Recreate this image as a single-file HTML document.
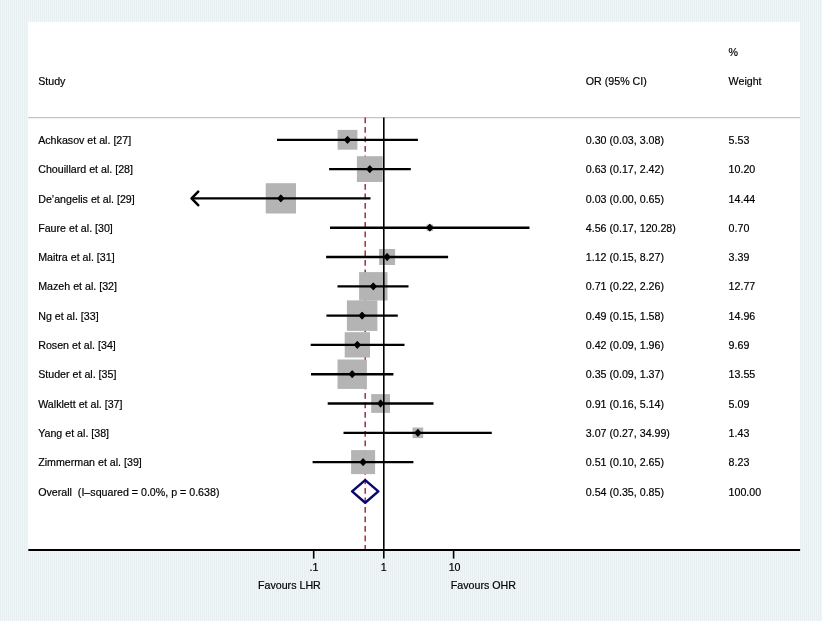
<!DOCTYPE html>
<html><head><meta charset="utf-8"><title>Forest plot</title>
<style>
html,body{margin:0;padding:0;}
body{width:822px;height:621px;overflow:hidden;background:#eaf2f3;}
svg{display:block;}
text{font-family:"Liberation Sans",Arial,Helvetica,sans-serif;font-size:10.66px;fill:#000;stroke:#000;stroke-width:0.18px;}
</style></head><body>
<svg width="822" height="621" viewBox="0 0 822 621">
<defs><pattern id="st" width="2" height="2" patternUnits="userSpaceOnUse"><rect width="2" height="2" fill="#eef6f6"/><rect width="1" height="2" fill="#e7eff1"/></pattern></defs>
<rect x="0" y="0" width="822" height="621" fill="url(#st)"/>
<rect x="28.3" y="21.8" width="771.8" height="528.2" fill="#fff"/>
<line x1="28.3" y1="117.7" x2="800.1" y2="117.7" stroke="#c4c4c4" stroke-width="1.2"/>
<line x1="365.2" y1="117.5" x2="365.2" y2="549.5" stroke="#9a2a38" stroke-width="1.45" stroke-dasharray="5.7 3.8"/>
<rect x="337.6" y="129.9" width="19.8" height="19.8" fill="#b4b4b4"/>
<rect x="356.9" y="156.2" width="25.8" height="25.8" fill="#b4b4b4"/>
<rect x="265.7" y="183.2" width="30.3" height="30.3" fill="#b4b4b4"/>
<rect x="426.6" y="224.5" width="6.5" height="6.5" fill="#b4b4b4"/>
<rect x="379.1" y="249.0" width="16.0" height="16.0" fill="#b4b4b4"/>
<rect x="359.1" y="272.1" width="28.4" height="28.4" fill="#b4b4b4"/>
<rect x="346.9" y="300.4" width="30.5" height="30.5" fill="#b4b4b4"/>
<rect x="344.7" y="332.2" width="25.3" height="25.3" fill="#b4b4b4"/>
<rect x="337.5" y="359.5" width="29.4" height="29.4" fill="#b4b4b4"/>
<rect x="371.2" y="394.1" width="18.8" height="18.8" fill="#b4b4b4"/>
<rect x="412.6" y="427.5" width="10.6" height="10.6" fill="#b4b4b4"/>
<rect x="351.1" y="450.1" width="24.0" height="24.0" fill="#b4b4b4"/>
<line x1="383.8" y1="117.5" x2="383.8" y2="550" stroke="#000" stroke-width="1.6"/>
<line x1="277.0" y1="139.8" x2="417.9" y2="139.8" stroke="#000" stroke-width="2.35"/>
<path d="M344.5 139.8 L347.5 136.5 L350.5 139.8 L347.5 143.1Z" fill="#000" stroke="#000" stroke-width="1.1" stroke-linejoin="round"/>
<line x1="329.1" y1="169.1" x2="410.8" y2="169.1" stroke="#000" stroke-width="2.35"/>
<path d="M366.8 169.1 L369.8 165.8 L372.8 169.1 L369.8 172.4Z" fill="#000" stroke="#000" stroke-width="1.1" stroke-linejoin="round"/>
<path d="M191.6 198.4 L370.5 198.4" stroke="#000" stroke-width="2.35" fill="none"/>
<path d="M198.2 191.6 L191.6 198.4 L198.2 205.2" stroke="#000" stroke-width="2.6" fill="none" stroke-linecap="round" stroke-linejoin="round"/>
<path d="M277.8 198.4 L280.8 195.1 L283.8 198.4 L280.8 201.7Z" fill="#000" stroke="#000" stroke-width="1.1" stroke-linejoin="round"/>
<line x1="330.0" y1="227.7" x2="529.5" y2="227.7" stroke="#000" stroke-width="2.35"/>
<path d="M426.8 227.7 L429.8 224.4 L432.8 227.7 L429.8 231.0Z" fill="#000" stroke="#000" stroke-width="1.1" stroke-linejoin="round"/>
<line x1="326.1" y1="257.0" x2="448.1" y2="257.0" stroke="#000" stroke-width="2.35"/>
<path d="M384.1 257.0 L387.1 253.7 L390.1 257.0 L387.1 260.3Z" fill="#000" stroke="#000" stroke-width="1.1" stroke-linejoin="round"/>
<line x1="337.5" y1="286.3" x2="408.5" y2="286.3" stroke="#000" stroke-width="2.35"/>
<path d="M370.3 286.3 L373.3 283.0 L376.3 286.3 L373.3 289.6Z" fill="#000" stroke="#000" stroke-width="1.1" stroke-linejoin="round"/>
<line x1="326.4" y1="315.6" x2="397.8" y2="315.6" stroke="#000" stroke-width="2.35"/>
<path d="M359.1 315.6 L362.1 312.3 L365.1 315.6 L362.1 318.9Z" fill="#000" stroke="#000" stroke-width="1.1" stroke-linejoin="round"/>
<line x1="310.7" y1="344.9" x2="404.5" y2="344.9" stroke="#000" stroke-width="2.35"/>
<path d="M354.3 344.9 L357.3 341.6 L360.3 344.9 L357.3 348.2Z" fill="#000" stroke="#000" stroke-width="1.1" stroke-linejoin="round"/>
<line x1="311.0" y1="374.2" x2="393.4" y2="374.2" stroke="#000" stroke-width="2.35"/>
<path d="M349.2 374.2 L352.2 370.9 L355.2 374.2 L352.2 377.5Z" fill="#000" stroke="#000" stroke-width="1.1" stroke-linejoin="round"/>
<line x1="327.7" y1="403.5" x2="433.5" y2="403.5" stroke="#000" stroke-width="2.35"/>
<path d="M377.6 403.5 L380.6 400.2 L383.6 403.5 L380.6 406.8Z" fill="#000" stroke="#000" stroke-width="1.1" stroke-linejoin="round"/>
<line x1="343.5" y1="432.8" x2="491.8" y2="432.8" stroke="#000" stroke-width="2.35"/>
<path d="M414.9 432.8 L417.9 429.5 L420.9 432.8 L417.9 436.1Z" fill="#000" stroke="#000" stroke-width="1.1" stroke-linejoin="round"/>
<line x1="312.6" y1="462.1" x2="413.4" y2="462.1" stroke="#000" stroke-width="2.35"/>
<path d="M360.1 462.1 L363.1 458.8 L366.1 462.1 L363.1 465.4Z" fill="#000" stroke="#000" stroke-width="1.1" stroke-linejoin="round"/>
<path d="M352.1 491.4 L365.2 480.1 L378.3 491.4 L365.2 502.7Z" fill="none" stroke="#08086e" stroke-width="2.5" stroke-linejoin="round"/>
<line x1="28.3" y1="550.05" x2="800.1" y2="550.05" stroke="#000" stroke-width="1.95"/>
<line x1="313.7" y1="550" x2="313.7" y2="558.6" stroke="#000" stroke-width="1.6"/>
<line x1="383.8" y1="550" x2="383.8" y2="558.6" stroke="#000" stroke-width="1.6"/>
<line x1="453.6" y1="550" x2="453.6" y2="558.6" stroke="#000" stroke-width="1.6"/>
<text x="313.9" y="570.7" text-anchor="middle">.1</text>
<text x="383.8" y="570.7" text-anchor="middle">1</text>
<text x="454.6" y="570.7" text-anchor="middle">10</text>
<text x="258.0" y="589.0">Favours LHR</text>
<text x="450.8" y="589.0">Favours OHR</text>
<text x="728.6" y="56.0">%</text>
<text x="38.2" y="85.3">Study</text>
<text x="585.8" y="85.3">OR (95% CI)</text>
<text x="728.6" y="85.3">Weight</text>
<text x="38.2" y="143.9">Achkasov et al. [27]</text>
<text x="585.8" y="143.9">0.30 (0.03, 3.08)</text>
<text x="728.6" y="143.9">5.53</text>
<text x="38.2" y="173.2">Chouillard et al. [28]</text>
<text x="585.8" y="173.2">0.63 (0.17, 2.42)</text>
<text x="728.6" y="173.2">10.20</text>
<text x="38.2" y="202.5">De’angelis et al. [29]</text>
<text x="585.8" y="202.5">0.03 (0.00, 0.65)</text>
<text x="728.6" y="202.5">14.44</text>
<text x="38.2" y="231.8">Faure et al. [30]</text>
<text x="585.8" y="231.8">4.56 (0.17, 120.28)</text>
<text x="728.6" y="231.8">0.70</text>
<text x="38.2" y="261.1">Maitra et al. [31]</text>
<text x="585.8" y="261.1">1.12 (0.15, 8.27)</text>
<text x="728.6" y="261.1">3.39</text>
<text x="38.2" y="290.4">Mazeh et al. [32]</text>
<text x="585.8" y="290.4">0.71 (0.22, 2.26)</text>
<text x="728.6" y="290.4">12.77</text>
<text x="38.2" y="319.7">Ng et al. [33]</text>
<text x="585.8" y="319.7">0.49 (0.15, 1.58)</text>
<text x="728.6" y="319.7">14.96</text>
<text x="38.2" y="349.0">Rosen et al. [34]</text>
<text x="585.8" y="349.0">0.42 (0.09, 1.96)</text>
<text x="728.6" y="349.0">9.69</text>
<text x="38.2" y="378.3">Studer et al. [35]</text>
<text x="585.8" y="378.3">0.35 (0.09, 1.37)</text>
<text x="728.6" y="378.3">13.55</text>
<text x="38.2" y="407.6">Walklett et al. [37]</text>
<text x="585.8" y="407.6">0.91 (0.16, 5.14)</text>
<text x="728.6" y="407.6">5.09</text>
<text x="38.2" y="436.9">Yang et al. [38]</text>
<text x="585.8" y="436.9">3.07 (0.27, 34.99)</text>
<text x="728.6" y="436.9">1.43</text>
<text x="38.2" y="466.2">Zimmerman et al. [39]</text>
<text x="585.8" y="466.2">0.51 (0.10, 2.65)</text>
<text x="728.6" y="466.2">8.23</text>
<text x="38.2" y="495.5" xml:space="preserve">Overall  (I–squared = 0.0%, p = 0.638)</text>
<text x="585.8" y="495.5">0.54 (0.35, 0.85)</text>
<text x="728.6" y="495.5">100.00</text>
</svg>
</body></html>
